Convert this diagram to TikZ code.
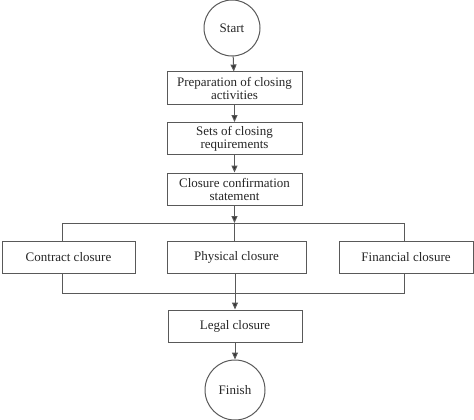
\documentclass[tikz,border=0pt]{standalone}
\usepackage{fontspec}
\setmainfont{Liberation Serif}
\usetikzlibrary{arrows.meta}
\begin{document}
\begin{tikzpicture}[x=1pt,y=1pt,
  line/.style={draw=black!65, line width=1pt},
  arr/.style={line, -{Triangle[length=7pt,width=6pt,fill=black!80]}},
  box/.style={draw=black!65, line width=1pt, fill=white, minimum height=32pt, align=center, inner sep=1pt, font=\fontsize{13}{13}\selectfont, text=black!85},
  term/.style={draw=black!65, line width=1pt, fill=white, circle, minimum size=56pt, inner sep=0pt, font=\fontsize{13}{13}\selectfont, text=black!85}]
\useasboundingbox (0,0) rectangle (474,-420);
\node[term] (start) at (232,-28) {Start};
\node[box, minimum width=135pt] (prep) at (234.5,-88) {Preparation of closing\\activities};
\node[box, minimum width=135pt] (sets) at (234.5,-138.5) {Sets of closing\\requirements};
\node[box, minimum width=135pt] (conf) at (234.5,-189) {Closure confirmation\\statement};
\node[box, minimum width=133pt] (contract) at (68.5,-257) {Contract closure};
\node[box, minimum width=139pt] (physical) at (236.5,-257) {Physical closure};
\node[box, minimum width=134pt] (financial) at (406,-257) {Financial closure};
\node[box, minimum width=134pt] (legal) at (235,-326) {Legal closure};
\node[term, minimum size=60pt] (finish) at (235,-390) {Finish};
\coordinate (tl) at (62,-223);
\coordinate (tr) at (404,-223);
\coordinate (tm) at (234.5,-223);
\coordinate (bl) at (62,-293);
\coordinate (br) at (404,-293);
\draw[arr] (start) -- (prep);
\draw[arr] (prep) -- (sets);
\draw[arr] (sets) -- (conf);
\draw[line] (contract.north -| tl) -- (tl) -- (tr) -- (financial.north -| tr);
\draw[line] (tm) -- (tm |- physical.north);
\draw[arr] (conf.south) -- (tm);
\draw[line] (contract.south -| bl) -- (bl) -- (br) -- (financial.south -| br);
\draw[arr] (physical.south -| legal.north) -- (legal.north);
\draw[arr] (legal) -- (finish);
\end{tikzpicture}
\end{document}
